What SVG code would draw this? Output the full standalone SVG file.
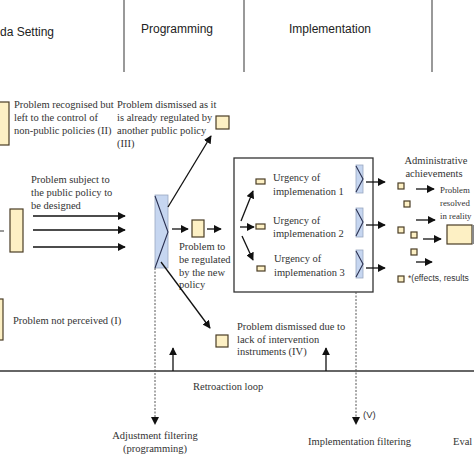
<svg xmlns="http://www.w3.org/2000/svg" width="474" height="474" viewBox="0 0 474 474">
<defs>
<marker id="ah" viewBox="0 0 10 10" refX="9" refY="5" markerWidth="8" markerHeight="8" markerUnits="userSpaceOnUse" orient="auto">
<path d="M0,0 L10,5 L0,10 z" fill="#111"/>
</marker>
<style>
.hdr{font-family:"Liberation Sans",Arial,sans-serif;font-size:12px;fill:#222}
.t{font-family:"Liberation Serif","Times New Roman",serif;font-size:10.5px;fill:#333}
.tr{font-family:"Liberation Serif","Times New Roman",serif;font-size:8.8px;fill:#333}
.s{font-family:"Liberation Sans",Arial,sans-serif;font-size:9.5px;fill:#333}
.box{fill:#fdf0c4;stroke:#4a3d25;stroke-width:1.2}
.ln{stroke:#555;stroke-width:1.2;fill:none}
.ar{stroke:#111;stroke-width:1.3;fill:none;marker-end:url(#ah)}
.dash{stroke:#555;stroke-width:1;stroke-dasharray:2,1.5;fill:none}
.fun{fill:#c6d6f0;stroke:#9aa8c0;stroke-width:0.8}
.chev{stroke:#2a3050;stroke-width:1.1;fill:none}
</style>
</defs>
<rect width="474" height="474" fill="#fff"/>

<g id="phases">
<line class="ln" x1="124" y1="0" x2="124" y2="72"/>
<line class="ln" x1="244" y1="0" x2="244" y2="72"/>
<line class="ln" x1="432" y1="0" x2="432" y2="72"/>
<text class="hdr" x="0" y="36">da Setting</text>
<text class="hdr" x="141" y="33">Programming</text>
<text class="hdr" x="289" y="33">Implementation</text>
</g>

<g id="node-II">
<rect class="box" x="-5" y="102" width="14" height="43"/>
<text class="t" x="14" y="108">Problem recognised but</text>
<text class="t" x="14" y="121">left to the control of</text>
<text class="t" x="14" y="134">non-public policies (II)</text>
</g>

<g id="node-III">
<text class="t" x="117" y="108">Problem dismissed as it</text>
<text class="t" x="117" y="121">is already regulated by</text>
<text class="t" x="117" y="134">another public policy</text>
<text class="t" x="117" y="147">(III)</text>
<rect class="box" x="216" y="116" width="13" height="13"/>
</g>

<g id="node-subject">
<rect class="box" x="10" y="209" width="13" height="43"/>
<text class="t" x="31" y="183">Problem subject to</text>
<text class="t" x="31" y="196">the public policy to</text>
<text class="t" x="31" y="209">be designed</text>
</g>

<g id="node-I">
<rect class="box" x="-10" y="299" width="13" height="41"/>
<text class="t" x="13" y="324">Problem not perceived (I)</text>
</g>

<g id="funnel">
<rect class="fun" x="155" y="195" width="13" height="73"/>
<polyline class="chev" points="155,196 168,232 155,268"/>
</g>

<g id="node-regulated">
<rect class="box" x="192" y="220" width="12" height="17"/>
<text class="t" x="179" y="250">Problem to</text>
<text class="t" x="179" y="263">be regulated</text>
<text class="t" x="179" y="276">by the new</text>
<text class="t" x="179" y="288">policy</text>
</g>

<g id="node-implementation">
<rect x="234" y="158" width="139" height="134" fill="none" stroke="#333" stroke-width="1.3"/>
<rect class="box" x="256" y="179" width="9" height="5"/>
<text class="t" x="273" y="181">Urgency of</text>
<text class="t" x="273" y="195">implemenation 1</text>
<rect class="box" x="256" y="224" width="9" height="5"/>
<text class="t" x="273" y="224">Urgency of</text>
<text class="t" x="273" y="237">implemenation 2</text>
<rect class="box" x="257" y="266" width="8" height="5"/>
<text class="t" x="274" y="262">Urgency of</text>
<text class="t" x="274" y="276">implemenation 3</text>
<rect class="fun" x="356" y="165" width="7" height="28"/>
<polyline class="chev" points="356,166 363,179 356,192"/>
<rect class="fun" x="356" y="208" width="7" height="29"/>
<polyline class="chev" points="356,209 363,222 356,236"/>
<rect class="fun" x="356" y="250" width="7" height="28"/>
<polyline class="chev" points="356,251 363,264 356,277"/>
</g>

<g id="node-IV">
<rect class="box" x="216" y="335" width="12" height="12"/>
<text class="t" x="237" y="330">Problem dismissed due to</text>
<text class="t" x="237" y="343">lack of intervention</text>
<text class="t" x="237" y="355">instruments (IV)</text>
</g>

<g id="node-results">
<text class="t" x="436" y="164" text-anchor="middle">Administrative</text>
<text class="t" x="434" y="177" text-anchor="middle">achievements</text>
<rect class="box" x="398" y="183" width="6" height="6" stroke-width="1"/>
<rect class="box" x="404" y="201" width="6" height="6" stroke-width="1"/>
<rect class="box" x="398" y="227" width="6" height="6" stroke-width="1"/>
<rect class="box" x="411" y="232" width="6" height="6" stroke-width="1"/>
<rect class="box" x="411" y="249" width="6" height="6" stroke-width="1"/>
<rect class="box" x="398" y="276" width="6" height="6" stroke-width="1"/>
<rect class="box" x="447" y="225" width="25" height="19"/>
<rect x="472" y="225" width="4" height="19" fill="#888"/>
<text class="tr" x="440" y="193">Problem</text>
<text class="tr" x="440" y="206">resolved</text>
<text class="tr" x="440" y="219">in reality</text>
<text class="s" x="408" y="281" style="font-size:8.5px">*(effects, results</text>
</g>

<g id="bottom-labels">
<text class="t" x="193" y="390">Retroaction loop</text>
<text class="t" x="155" y="439" text-anchor="middle">Adjustment filtering</text>
<text class="t" x="155" y="452" text-anchor="middle">(programming)</text>
<text class="t" x="308" y="445">Implementation filtering</text>
<text class="t" x="453" y="445">Eval</text>
<text class="s" x="363" y="418">(V)</text>
</g>

<g id="connectors">
<line class="ln" x1="0" y1="231" x2="4" y2="231" stroke="#111"/>
<line class="ar" x1="33" y1="216" x2="125" y2="216"/>
<line class="ar" x1="33" y1="230" x2="125" y2="230"/>
<line class="ar" x1="33" y1="247" x2="125" y2="247"/>
<line class="ar" x1="168" y1="207" x2="211" y2="136"/>
<line class="ar" x1="161" y1="262" x2="210" y2="328"/>
<line class="ar" x1="172" y1="229" x2="188" y2="229"/>
<line class="ar" x1="207" y1="229" x2="221" y2="229"/>
<line class="ar" x1="241" y1="221" x2="253" y2="191"/>
<line class="ar" x1="240" y1="227" x2="254" y2="227"/>
<line class="ar" x1="242" y1="236" x2="253" y2="260"/>
<line class="ar" x1="366" y1="182" x2="385" y2="182"/>
<line class="ar" x1="366" y1="225" x2="385" y2="225"/>
<line class="ar" x1="366" y1="268" x2="385" y2="268"/>
<line class="ar" x1="416" y1="189" x2="434" y2="189"/>
<line class="ar" x1="416" y1="220" x2="435" y2="220"/>
<line class="ar" x1="423" y1="239" x2="441" y2="239"/>
<line class="ar" x1="416" y1="262" x2="432" y2="262"/>
<line x1="0" y1="371" x2="474" y2="371" stroke="#333" stroke-width="1.3"/>
<line class="ar" x1="173" y1="371" x2="173" y2="348"/>
<line class="ar" x1="326" y1="371" x2="326" y2="348"/>
<line class="dash" x1="155" y1="268" x2="155" y2="418"/>
<path d="M151,417 L159,417 L155,425 z" fill="#111"/>
<line class="dash" x1="356" y1="292" x2="356" y2="418"/>
<path d="M352,417 L360,417 L356,425 z" fill="#111"/>
</g>
</svg>
